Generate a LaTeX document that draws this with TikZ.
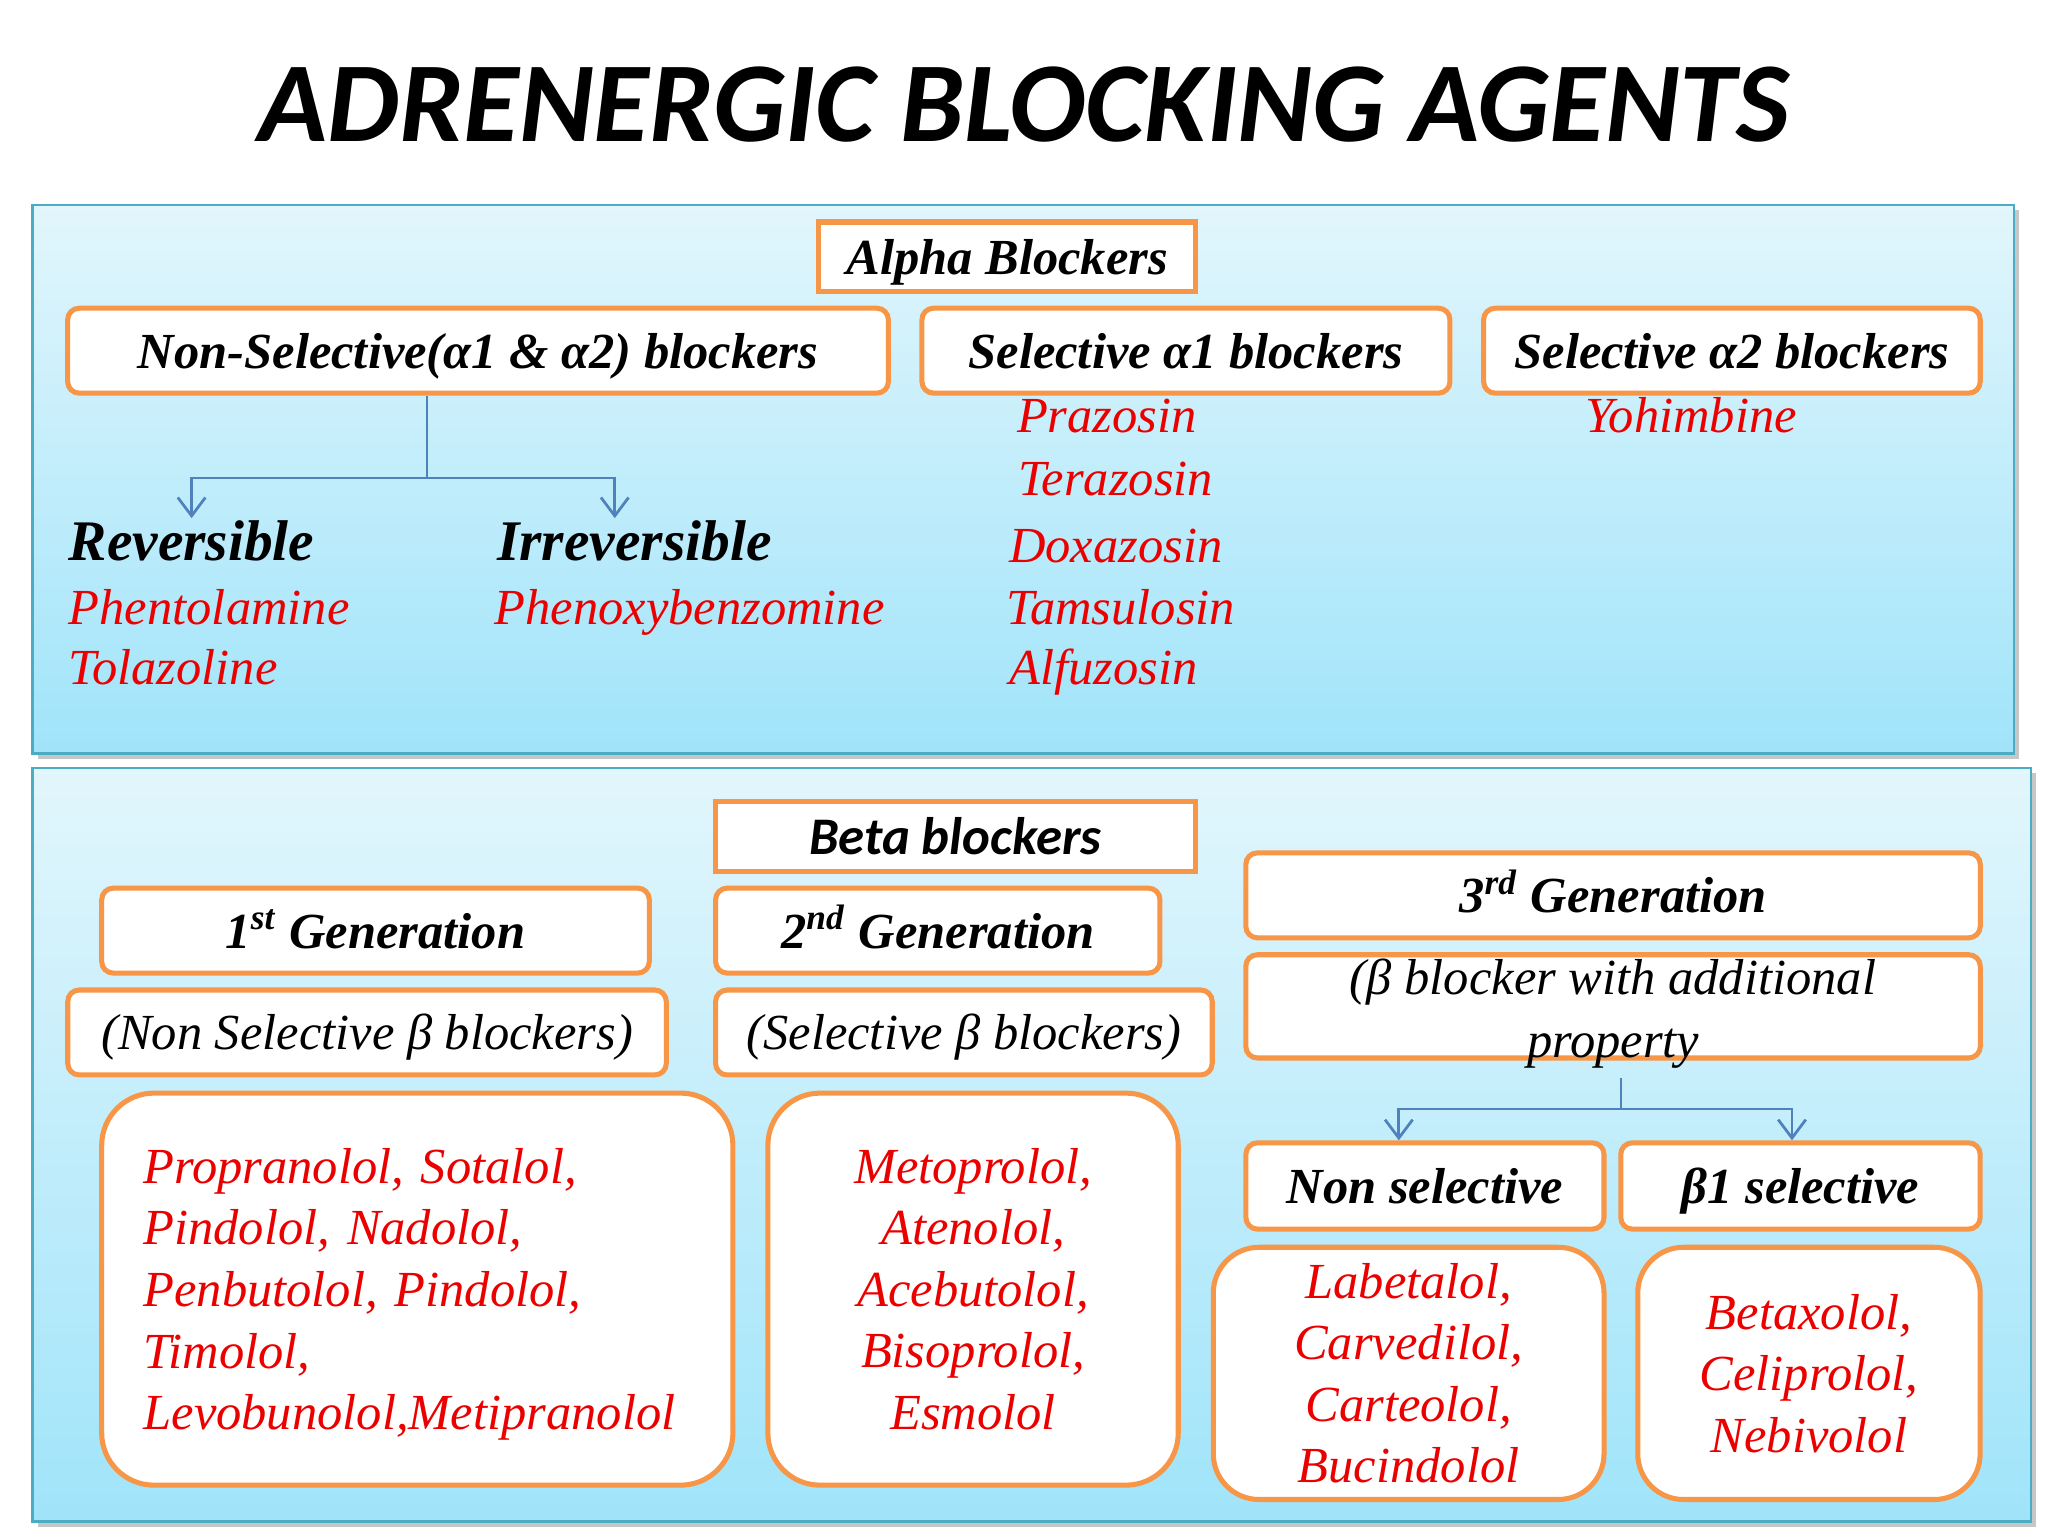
\documentclass[tikz,border=0pt]{standalone}
\usepackage{fontspec}
\setmainfont{Liberation Serif}
\newfontfamily\headfont{Carlito}
\usetikzlibrary{arrows.meta}
\definecolor{boxorange}{RGB}{247,150,70}
\definecolor{panelline}{RGB}{75,172,198}
\definecolor{paneltop}{RGB}{226,246,252}
\definecolor{panelbot}{RGB}{160,228,250}
\definecolor{linkblue}{RGB}{79,129,189}
\definecolor{drugred}{RGB}{235,0,0}
\tikzset{
  panel/.style={
    draw=panelline,
    line width=0.6pt,
    top color=paneltop,
    bottom color=panelbot
  },
  panelshadow/.style={fill=black!22, draw=none},
  evenline/.style={text height=0.88em, text depth=0.12em},
  headbox/.style={
    rectangle,
    draw=boxorange,
    line width=1.1pt,
    fill=white,
    inner sep=0pt,
    evenline,
    font=\fontsize{11}{13}\selectfont\bfseries\itshape
  },
  groupbox/.style={headbox, rounded corners=2.5pt},
  notebox/.style={groupbox, font=\fontsize{11}{13}\selectfont\itshape},
  drugbox/.style={
    rectangle,
    rounded corners=0.4cm,
    draw=boxorange,
    line width=1.1pt,
    fill=white,
    text=drugred,
    align=center,
    font=\fontsize{11}{13.4}\selectfont\itshape
  },
  drugtext/.style={text=drugred, inner sep=0pt, evenline, font=\fontsize{11}{13}\selectfont\itshape},
  classtext/.style={inner sep=0pt, text height=0.91em, text depth=0.09em, font=\fontsize{12.5}{15}\selectfont\bfseries\itshape},
  linkline/.style={draw=linkblue, line width=0.6pt},
  linkarrow/.style={linkline, -{Straight Barb[length=4pt,width=6pt]}}
}

\begin{document}
\begin{tikzpicture}[x=0.01cm, y=-0.01cm]
  \useasboundingbox (0,0) rectangle (1568,1176);

  \node[font=\headfont\fontsize{24.8}{30}\selectfont\bfseries\itshape] (title) at (784,80) {ADRENERGIC BLOCKING AGENTS};

  % alpha panel
  \fill[panelshadow] (29,161) rectangle (1546,581);
  \draw[panel] (25,157) rectangle (1542,577);

  \node[headbox, minimum width=2.88cm, minimum height=0.53cm] (alpha) at (771,196.5) {Alpha Blockers};
  \node[groupbox, minimum width=6.28cm, minimum height=0.65cm] (nonsel) at (366,268.5) {Non-Selective(α1 \& α2) blockers};
  \node[groupbox, minimum width=4.04cm, minimum height=0.65cm] (selone) at (908,268.5) {Selective α1 blockers};
  \node[groupbox, minimum width=3.80cm, minimum height=0.65cm] (seltwo) at (1326,268.5) {Selective α2 blockers};

  \node[classtext, anchor=west] (reversible) at (52,415) {Reversible};
  \node[classtext, anchor=west] (irreversible) at (380,415) {Irreversible};
  \node[drugtext, anchor=west] (phentolamine) at (52,465) {Phentolamine};
  \node[drugtext, anchor=west] (tolazoline) at (52,511) {Tolazoline};
  \node[drugtext, anchor=west] (phenoxy) at (378,465) {Phenoxybenzomine};

  \node[drugtext, anchor=west] (prazosin) at (778,318) {Prazosin};
  \node[drugtext, anchor=west] (terazosin) at (779,366) {Terazosin};
  \node[drugtext, anchor=west] (doxazosin) at (772,417) {Doxazosin};
  \node[drugtext, anchor=west] (tamsulosin) at (770,465) {Tamsulosin};
  \node[drugtext, anchor=west] (alfuzosin) at (772,511) {Alfuzosin};
  \node[drugtext, anchor=west] (yohimbine) at (1213,318) {Yohimbine};

  \coordinate (alphasplit) at (327,366);
  \draw[linkline] (alphasplit |- nonsel.south) -- (alphasplit);
  \draw[linkarrow] (alphasplit) -| (reversible.north);
  \draw[linkarrow] (alphasplit) -| ([xshift=-0.15cm]irreversible.north);

  % beta panel
  \fill[panelshadow] (29,592) rectangle (1559,1169);
  \draw[panel] (25,588) rectangle (1555,1165);

  \node[headbox, minimum width=3.67cm, minimum height=0.53cm, font=\headfont\fontsize{11.5}{13}\selectfont\bfseries\itshape] (beta) at (731.5,640.5) {Beta blockers};
  \node[groupbox, minimum width=4.19cm, minimum height=0.65cm] (genone) at (287.5,712.5) {1\textsuperscript{st} Generation};
  \node[groupbox, minimum width=3.40cm, minimum height=0.65cm] (gentwo) at (718,712.5) {2\textsuperscript{nd} Generation};
  \node[groupbox, minimum width=5.62cm, minimum height=0.65cm] (genthree) at (1235,685.5) {3\textsuperscript{rd} Generation};
  \node[notebox, minimum width=4.58cm, minimum height=0.65cm] (genonenote) at (281,790.5) {(Non Selective β blockers)};
  \node[notebox, minimum width=3.80cm, minimum height=0.65cm] (gentwonote) at (738,790.5) {(Selective β blockers)};
  \node[notebox, minimum width=5.62cm, minimum height=0.79cm] (genthreenote) at (1235,770.5) {};
  \node[align=center, inner sep=0pt, font=\fontsize{11}{13.7}\selectfont\itshape] (genthreetext) at (1235,776) {(β blocker with additional\\property};

  \node[groupbox, minimum width=2.74cm, minimum height=0.66cm] (nonselhead) at (1091,908) {Non selective};
  \node[groupbox, minimum width=2.75cm, minimum height=0.66cm] (betaonehead) at (1378.5,908) {β1 selective};

  \coordinate (betastem) at (1241,825);
  \coordinate (betasplit) at (1241,849);
  \draw[linkline] (betastem) -- (betasplit);
  \draw[linkarrow] (betasplit) -| ([xshift=-0.2cm]nonselhead.north);
  \draw[linkarrow] (betasplit) -| ([xshift=-0.065cm]betaonehead.north);

  \node[drugbox, align=left, text width=4.19cm, inner xsep=0.32cm, minimum width=4.83cm, minimum height=3.00cm] (genonedrugs) at (319.5,987)
    {\rule{0pt}{0.9em}Propranolol, Sotalol,\\Pindolol, Nadolol,\\Penbutolol, Pindolol,\\Timolol,\\Levobunolol,Metipranolol};
  \node[drugbox, minimum width=3.14cm, minimum height=3.00cm] (gentwodrugs) at (745,987)
    {Metoprolol,\\Atenolol,\\Acebutolol,\\Bisoprolol,\\Esmolol};
  \node[drugbox, rounded corners=0.35cm, minimum width=2.99cm, minimum height=1.93cm] (nonseldrugs) at (1078.5,1051.5)
    {Labetalol,\\Carvedilol,\\Carteolol,\\Bucindolol};
  \node[drugbox, rounded corners=0.35cm, minimum width=2.62cm, minimum height=1.93cm] (betaonedrugs) at (1385,1051.5)
    {Betaxolol,\\Celiprolol,\\Nebivolol};
\end{tikzpicture}
\end{document}
